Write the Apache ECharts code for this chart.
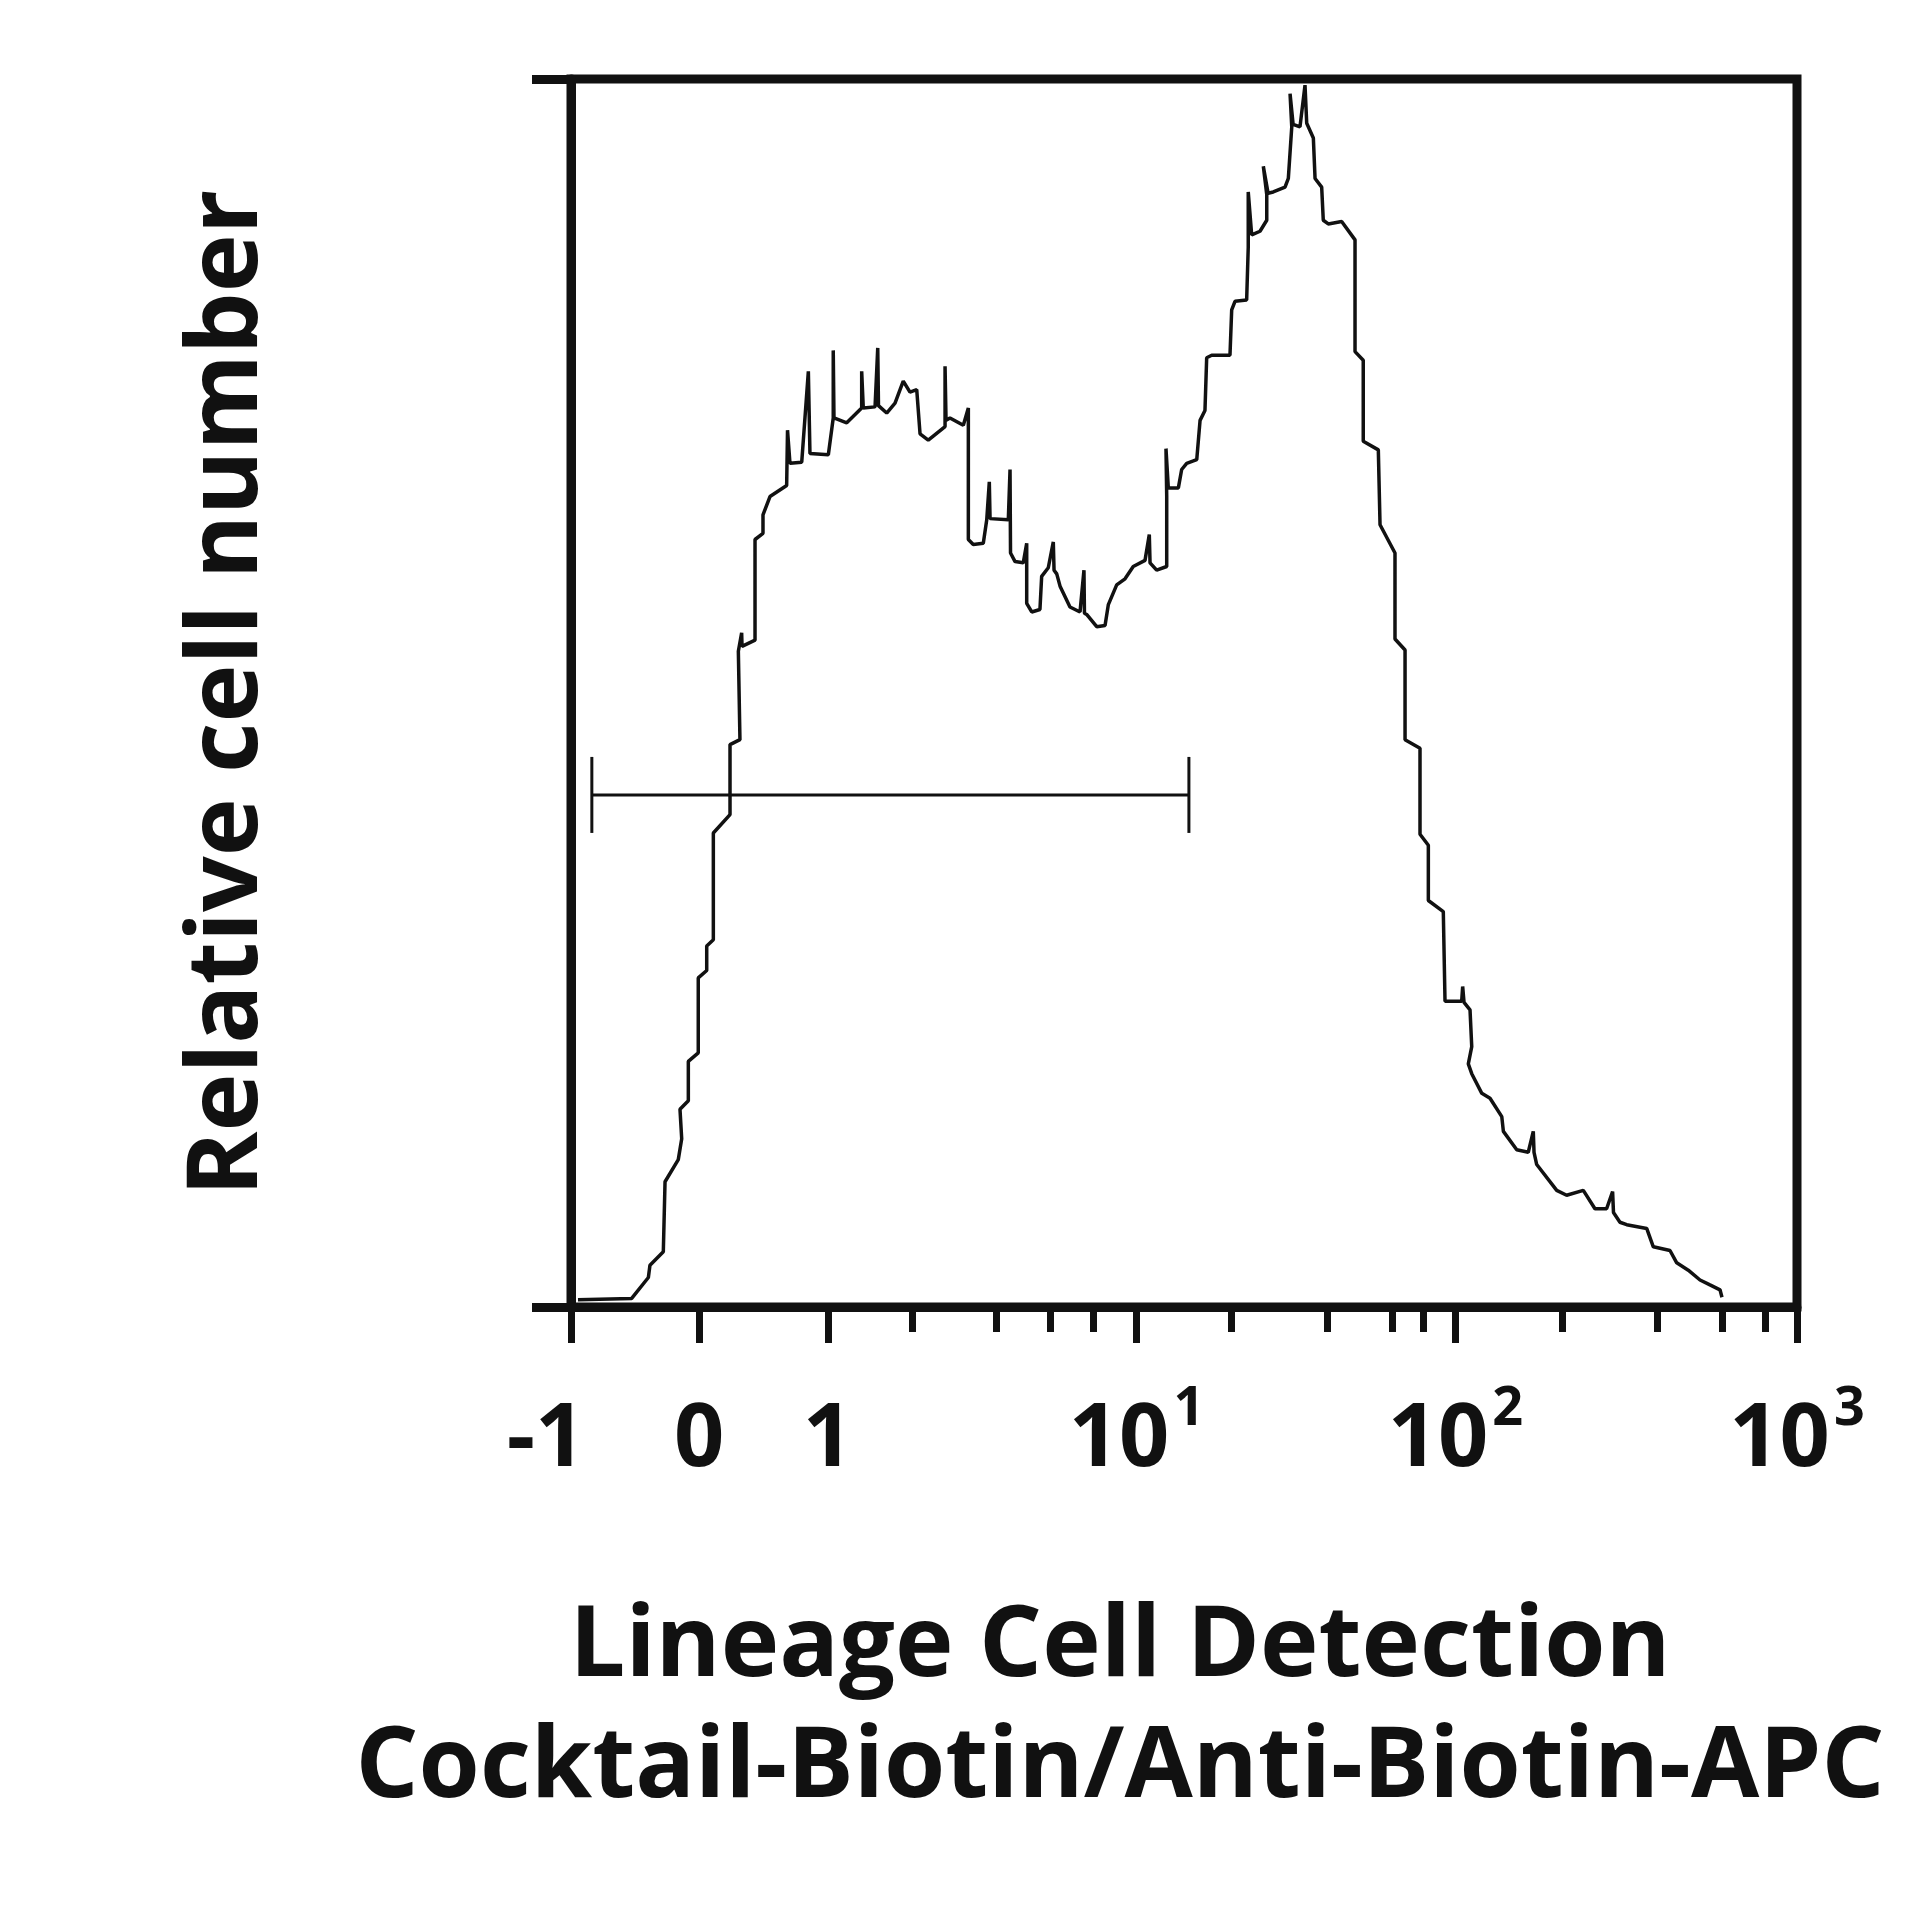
<!DOCTYPE html>
<html>
<head>
<meta charset="utf-8">
<title>Lineage Cell Detection histogram</title>
<script src="https://cdn.jsdelivr.net/npm/echarts@6/dist/echarts.min.js"></script>
<style>
  html, body { margin: 0; padding: 0; background: #fff; }
  #chart { width: 1920px; height: 1920px; }
</style>
</head>
<body>
<div id="chart"></div>
<script>
// histogram, x in display channels (0..1000), y in relative count (0..100)
const histChannel = [
  5.7, 49.5, 63.1, 64.4, 75.3, 76.7, 87.5, 90.3, 88.9, 95.7,
  95.7, 103.8, 103.8, 110.7, 110.7, 116.1, 116.1, 129.7, 129.7, 137.8,
  136.5, 139.2, 139.5, 150.1, 150.1, 156.6, 156.6, 162.3, 175.9, 176.6,
  178.6, 188.2, 193.6, 194.9, 209.9, 213.9, 213.9, 214.5, 224.9, 237.1,
  237.1, 238.4, 248.0, 250.2, 250.8, 257.5, 264.3, 271.0, 276.5, 282.0,
  284.7, 291.4, 305.1, 305.1, 305.9, 309.1, 320.0, 324.1, 324.1, 324.1,
  328.1, 336.3, 339.1, 341.2, 341.8, 356.7, 358.1, 358.5, 362.2, 368.9,
  371.7, 371.7, 375.8, 382.5, 383.9, 389.3, 393.4, 394.0, 396.2, 398.9,
  407.0, 415.2, 418.4, 418.8, 420.6, 428.8, 435.6, 438.3, 445.1, 451.9,
  458.6, 468.2, 471.7, 472.3, 477.7, 485.9, 485.9, 485.3, 487.2, 495.4,
  498.1, 502.2, 510.4, 513.1, 517.1, 518.5, 522.6, 537.5, 538.9, 541.6,
  551.1, 552.4, 552.4, 555.2, 562.0, 567.5, 567.5, 564.7, 568.6, 572.8,
  582.4, 585.1, 587.9, 586.5, 589.0, 594.6, 598.7, 600.1, 605.5, 606.9,
  612.3, 613.6, 617.7, 628.6, 639.5, 639.5, 646.2, 646.2, 658.5, 659.9,
  672.1, 672.1, 680.3, 680.3, 692.5, 692.5, 699.3, 699.3, 711.5, 712.9,
  726.5, 727.3, 728.4, 733.3, 734.7, 731.9, 734.7, 742.9, 749.6, 759.2,
  760.5, 771.4, 780.8, 784.9, 785.5, 787.7, 804.0, 812.1, 825.7, 835.2,
  844.7, 849.6, 850.3, 855.6, 861.1, 877.4, 882.8, 896.4, 901.9, 911.3,
  920.9, 929.0, 937.2, 938.8
];
const histCount = [
  0.6, 0.7, 2.4, 3.4, 4.5, 10.2, 12.0, 13.7, 16.1, 16.8,
  20.0, 20.7, 26.8, 27.4, 29.4, 29.9, 38.6, 40.1, 45.8, 46.2,
  53.4, 54.9, 53.8, 54.3, 62.5, 63.0, 64.5, 66.0, 66.9, 71.4,
  68.7, 68.8, 76.2, 69.5, 69.4, 72.4, 77.9, 72.4, 72.0, 73.2,
  76.2, 73.2, 73.3, 78.1, 73.4, 72.8, 73.6, 75.4, 74.5, 74.7,
  71.1, 70.6, 71.7, 76.6, 72.2, 72.4, 71.8, 73.2, 71.8, 62.5,
  62.1, 62.2, 64.1, 67.2, 64.2, 64.1, 68.2, 61.4, 60.7, 60.6,
  62.2, 57.3, 56.6, 56.8, 59.5, 60.2, 62.3, 60.0, 59.7, 58.7,
  57.0, 56.6, 60.0, 56.5, 56.4, 55.4, 55.5, 57.2, 58.8, 59.3,
  60.3, 60.8, 62.9, 60.6, 60.0, 60.3, 66.0, 69.9, 66.7, 66.7,
  68.2, 68.7, 69.0, 72.2, 73.0, 77.3, 77.5, 77.5, 81.2, 81.9,
  82.0, 86.3, 90.8, 87.3, 87.6, 88.5, 90.6, 92.9, 90.7, 90.8,
  91.2, 91.9, 96.1, 98.8, 96.3, 96.1, 99.5, 96.4, 95.2, 91.9,
  91.2, 88.5, 88.2, 88.4, 86.9, 77.8, 77.1, 70.5, 69.8, 63.7,
  61.4, 54.4, 53.5, 46.2, 45.5, 38.5, 37.6, 33.1, 32.2, 24.9,
  24.9, 26.1, 24.8, 24.2, 21.2, 19.8, 19.0, 17.4, 17.0, 15.5,
  14.3, 12.8, 12.6, 14.3, 12.6, 11.6, 9.5, 9.1, 9.5, 8.0,
  8.0, 9.4, 7.7, 6.9, 6.7, 6.4, 4.9, 4.6, 3.6, 3.0,
  2.2, 1.8, 1.4, 0.8
];

// gate marker
const gateStart = 17;
const gateEnd = 504;
const gateLevel = 41.7;

// axis ticks (channel positions of the logicle scale)
const majorTickChannels = [0, 104.6, 209.5, 461.3, 721.4, 1000];
const majorTickLabels = ['-1', '0', '1', '10', '10', '10'];
const majorTickExponents = ['', '', '', '1', '2', '3'];
const minorTickChannels = [278.2, 346.9, 390.5, 425.9, 538.9, 616.5, 669.7, 695.5, 808.6, 886.1, 939.3, 974.0];

const INK = '#111';
const FONT = 'Open Sans';

const chart = echarts.init(document.getElementById('chart'));

function tickLabel(value) {
  const i = majorTickChannels.findIndex(c => Math.abs(c - value) < 0.01);
  if (i < 0) return '';
  const base = majorTickLabels[i];
  const exp = majorTickExponents[i];
  if (exp) return '{main|' + base + '}{sup|' + exp + '}';
  if (base.charAt(0) === '-') return '{neg|' + base + '}';
  return '{main|' + base + '}';
}

const option = {
  backgroundColor: '#fff',
  animation: false,
  grid: {
    left: 571, top: 79, width: 1226, height: 1228,
    containLabel: false, outerBoundsMode: 'none',
    show: true, borderColor: INK, borderWidth: 9, backgroundColor: 'transparent'
  },
  xAxis: [
    {
      type: 'value', min: 0, max: 1000, position: 'bottom',
      axisLine: { show: true, lineStyle: { color: INK, width: 9 } },
      axisTick: { show: true, inside: false, length: 36, customValues: majorTickChannels, lineStyle: { color: INK, width: 7 } },
      axisLabel: {
        show: true, customValues: majorTickChannels, margin: 76,
        formatter: tickLabel,
        rich: {
          main: { fontFamily: FONT, fontWeight: 'bold', fontSize: 88, lineHeight: 116, color: INK },
          neg: { fontFamily: FONT, fontWeight: 'bold', fontSize: 88, lineHeight: 116, color: INK, padding: [0, 50, 0, 0] },
          sup: { fontFamily: FONT, fontWeight: 'bold', fontSize: 54, lineHeight: 20, verticalAlign: 'top', color: INK, padding: [0, 0, 0, 4] }
        }
      },
      splitLine: { show: false },
      name: 'Lineage Cell Detection\nCocktail-Biotin/Anti-Biotin-APC',
      nameLocation: 'middle', nameGap: 280,
      nameTextStyle: { fontFamily: FONT, fontWeight: 'bold', fontSize: 99, lineHeight: 121, color: INK, align: 'center', padding: [0, 128, 0, 0] }
    },
    {
      type: 'value', min: 0, max: 1000, position: 'bottom',
      axisLine: { show: false },
      axisTick: { show: true, inside: false, length: 25, customValues: minorTickChannels, lineStyle: { color: INK, width: 7 } },
      axisLabel: { show: false },
      splitLine: { show: false }
    }
  ],
  yAxis: {
    type: 'value', min: 0, max: 100,
    axisLine: { show: true, lineStyle: { color: INK, width: 9 } },
    axisTick: { show: true, inside: false, length: 39, customValues: [0, 100], lineStyle: { color: INK, width: 9 } },
    axisLabel: { show: false },
    splitLine: { show: false },
    name: 'Relative cell number',
    nameLocation: 'middle', nameGap: 293, nameRotate: 90,
    nameTextStyle: { fontFamily: FONT, fontWeight: 'bold', fontSize: 98, color: INK }
  },
  series: [
    {
      type: 'line',
      data: histChannel.map((c, i) => [c, histCount[i]]),
      showSymbol: false,
      lineStyle: { color: INK, width: 3.5 },
      z: 3
    },
    {
      type: 'custom',
      data: [[gateStart, gateEnd, gateLevel]],
      renderItem: function (params, api) {
        const a = api.coord([api.value(0), api.value(2)]);
        const b = api.coord([api.value(1), api.value(2)]);
        const style = { stroke: INK, lineWidth: 3 };
        const cap = 38;
        return {
          type: 'group',
          children: [
            { type: 'line', shape: { x1: a[0], y1: a[1], x2: b[0], y2: b[1] }, style: style },
            { type: 'line', shape: { x1: a[0], y1: a[1] - cap, x2: a[0], y2: a[1] + cap }, style: style },
            { type: 'line', shape: { x1: b[0], y1: b[1] - cap, x2: b[0], y2: b[1] + cap }, style: style }
          ]
        };
      },
      z: 4
    }
  ]
};

chart.setOption(option);
window.addEventListener('resize', () => chart.resize());
</script>
</body>
</html>
